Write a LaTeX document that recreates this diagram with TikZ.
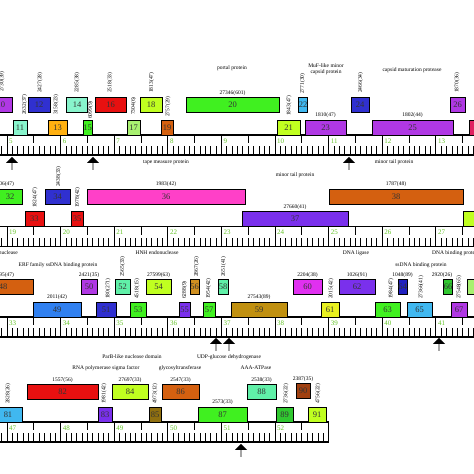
\documentclass[tikz,border=0pt]{standalone}
\usepackage{fontspec}
\setmainfont{Liberation Serif}
\usetikzlibrary{shapes.arrows, positioning}
\definecolor{gpurple}{RGB}{176, 56, 228}
\definecolor{gviolet}{RGB}{122, 48, 236}
\definecolor{gblue}{RGB}{48, 48, 208}
\definecolor{gnavy}{RGB}{32, 32, 192}
\definecolor{gsky}{RGB}{64, 184, 240}
\definecolor{gazure}{RGB}{48, 128, 240}
\definecolor{gaqua}{RGB}{136, 244, 204}
\definecolor{gmint}{RGB}{96, 240, 168}
\definecolor{gorange}{RGB}{255, 176, 16}
\definecolor{ggreen}{RGB}{64, 240, 32}
\definecolor{gdkgreen}{RGB}{48, 200, 48}
\definecolor{gred}{RGB}{232, 16, 16}
\definecolor{glime}{RGB}{168, 240, 112}
\definecolor{gyelgreen}{RGB}{192, 255, 32}
\definecolor{grust}{RGB}{212, 96, 16}
\definecolor{gcrimson}{RGB}{224, 32, 96}
\definecolor{gpink}{RGB}{255, 64, 200}
\definecolor{gmagenta}{RGB}{224, 48, 240}
\definecolor{ggold}{RGB}{192, 144, 16}
\definecolor{gtan}{RGB}{208, 144, 32}
\definecolor{gyellow}{RGB}{232, 240, 32}
\definecolor{golive}{RGB}{144, 112, 16}
\definecolor{gbrown}{RGB}{160, 64, 16}
\definecolor{kbgreen}{RGB}{100, 196, 40}

\begin{document}
\begin{tikzpicture}[x=1pt, y=-1pt,
  gene/.style={draw=black, line width=0.7pt, minimum height=15pt, inner sep=0pt, font=\fontsize{8.5}{8.5}\selectfont, text=black!80},
  vlab/.style={rotate=90, anchor=west, inner sep=0pt, font=\fontsize{5.5}{6}\selectfont},
  hlab/.style={inner sep=0pt, font=\fontsize{5.5}{6}\selectfont},
  func/.style={inner sep=0pt, font=\fontsize{5.5}{6}\selectfont, align=center},
  kbnum/.style={anchor=west, inner sep=0pt, text=kbgreen, font=\fontsize{7}{7}\selectfont},
  upmark/.style={single arrow, fill=black, rotate=90, minimum height=13pt, minimum width=12pt, single arrow head extend=3.5pt, inner sep=0pt}
]
  \useasboundingbox (0,0) rectangle (474,474);

  % rulers (kb scale)
  \foreach \yt/\k/\n/\h/\m/\e in {135/5/88/17/8/480, 226.5/19/88/17/8/480, 317/33/88/17/8/480, 422/47/60/12/5/328.6} {
    \draw[line width=1.3pt] (-5,\yt) -- (\e,\yt) (-5,\yt+20) -- (\e,\yt+20);
    \draw[line width=1pt] (\e,\yt) -- (\e,\yt+20);
    \foreach \i in {-1,...,\n}
      \draw[line width=0.7pt] ({7+\i*5.36},\yt+20) -- ++(0,-9);
    \foreach \i in {-1,...,\h}
      \draw[line width=0.8pt] ({7+\i*26.8},\yt) -- ++(0,8);
    \foreach \j in {0,...,\m} {
      \pgfmathtruncatemacro\lab{\k+\j}
      \draw[line width=0.8pt] ({7+\j*53.6},\yt) -- ++(0,20);
      \node[kbnum] (kb\lab) at ({9+\j*53.6},\yt+6) {\lab};
    }
  }

  % row 1
  \node[gene, fill=gpurple, minimum width=22pt] (g10) at (1,105) {10};
  \node[gene, fill=gblue, minimum width=22pt] (g12) at (39,105) {12};
  \node[gene, fill=gaqua, minimum width=21pt] (g14) at (77,105) {14};
  \node[gene, fill=gred, minimum width=31pt] (g16) at (110.5,105) {16};
  \node[gene, fill=gyelgreen, minimum width=22pt] (g18) at (151,105) {18};
  \node[gene, fill=ggreen, minimum width=93pt] (g20) at (232.5,105) {20};
  \node[gene, fill=gsky, minimum width=8pt] (g22) at (303,105) {22};
  \node[gene, fill=gblue, minimum width=18pt] (g24) at (360,105) {24};
  \node[gene, fill=gpurple, minimum width=15pt] (g26) at (457.5,105) {26};
  \node[gene, fill=gaqua, minimum width=14pt] (g11) at (20,127.5) {11};
  \node[gene, fill=gorange, minimum width=19pt] (g13) at (57.5,127.5) {13};
  \node[gene, fill=ggreen, minimum width=9pt] (g15) at (87.5,127.5) {15};
  \node[gene, fill=glime, minimum width=13pt] (g17) at (133.5,127.5) {17};
  \node[gene, fill=grust, minimum width=12pt] (g19) at (167,127.5) {19};
  \node[gene, fill=gyelgreen, minimum width=23pt] (g21) at (288.5,127.5) {21};
  \node[gene, fill=gpurple, minimum width=41pt] (g23) at (325.5,127.5) {23};
  \node[gene, fill=gpurple, minimum width=81pt] (g25) at (412.5,127.5) {25};
  \node[gene, fill=gcrimson, minimum width=21pt] (g27) at (479.5,127.5) {};

  \node[vlab] (l10) at (2,92) {2730(39)};
  \node[vlab] (l12) at (40,93) {2427(28)};
  \node[vlab] (l11) at (24.5,115) {2632(37)};
  \node[vlab] (l13) at (56,115) {3158(23)};
  \node[vlab] (l14) at (77,93) {2285(38)};
  \node[vlab] (l15) at (90.5,119) {6099(9)};
  \node[vlab] (l16) at (110,93) {2518(33)};
  \node[vlab] (l17) at (133.5,115) {7304(6)};
  \node[vlab] (l18) at (151.5,93) {1813(47)};
  \node[vlab] (l19) at (168,117) {2757(29)};
  \node[vlab] (l21) at (289,116) {1843(47)};
  \node[vlab] (l22) at (302.5,94) {2771(30)};
  \node[vlab] (l24) at (360.5,93) {2466(34)};
  \node[vlab] (l26) at (457,93) {1870(36)};
  \node[hlab, above=1.5pt of g20] (l20) {27346(601)};
  \node[hlab, above=1.5pt of g23] (l23) {1810(47)};
  \node[hlab, above=1.5pt of g25] (l25) {1802(44)};

  \node[func] (f20) at (232,68) {portal protein};
  \node[func] (f22) at (326,69) {MuF-like minor\\capsid protein};
  \node[func] (f24) at (412,70) {capsid maturation protease};
  \node[func] (f1a) at (166,162) {tape measure protein};
  \node[func] (f1b) at (394,162) {minor tail protein};

  % row 2
  \node[gene, fill=ggreen, minimum width=24pt] (g32) at (10,196.5) {32};
  \node[gene, fill=gblue, minimum width=25pt] (g34) at (57.5,196.5) {34};
  \node[gene, fill=gpink, minimum width=158pt] (g36) at (166,196.5) {36};
  \node[gene, fill=grust, minimum width=134pt] (g38) at (396,196.5) {38};
  \node[gene, fill=gred, minimum width=19pt] (g33) at (34.5,219) {33};
  \node[gene, fill=gred, minimum width=12pt] (g35) at (77,219) {35};
  \node[gene, fill=gviolet, minimum width=106pt] (g37) at (295,219) {37};
  \node[gene, fill=gyelgreen, minimum width=27pt] (g39) at (476.5,219) {};

  \node[hlab] (l32) at (4,184) {1806(47)};
  \node[vlab] (l34) at (58.5,187) {2438(33)};
  \node[vlab] (l33) at (35,208) {1824(47)};
  \node[vlab] (l35) at (77.5,208) {1978(42)};
  \node[hlab, above=1.5pt of g36] (l36) {1983(42)};
  \node[hlab, above=1.5pt of g38] (l38) {1787(48)};
  \node[hlab, above=1.5pt of g37] (l37) {27660(41)};

  \node[func] (f37) at (295,175) {minor tail protein};
  \node[func, anchor=east] (f2a) at (18,253) {exonuclease};
  \node[func] (f2b) at (157,253) {HNH endonuclease};
  \node[func] (f2c) at (356,253) {DNA ligase};
  \node[func, anchor=west] (f2d) at (432,253) {DNA binding protein};
  \node[func] (f2e) at (58,265) {ERF family ssDNA binding protein};
  \node[func] (f2f) at (421,265) {ssDNA binding protein};

  % row 3
  \node[gene, fill=grust, minimum width=60pt] (g48) at (3,287) {48};
  \node[gene, fill=gpurple, minimum width=16pt] (g50) at (89,287) {50};
  \node[gene, fill=gmint, minimum width=15pt] (g52) at (122.5,287) {52};
  \node[gene, fill=gyelgreen, minimum width=25pt] (g54) at (158.5,287) {54};
  \node[gene, fill=gtan, minimum width=9pt] (g56) at (194.5,287) {56};
  \node[gene, fill=gmint, minimum width=10pt] (g58) at (223,287) {58};
  \node[gene, fill=gmagenta, minimum width=29pt] (g60) at (307.5,287) {60};
  \node[gene, fill=gviolet, minimum width=36pt] (g62) at (357,287) {62};
  \node[gene, fill=gnavy, minimum width=9pt] (g64) at (402.5,287) {64};
  \node[gene, fill=gdkgreen, minimum width=6pt] (g66) at (448,287) {66};
  \node[gene, fill=glime, minimum width=23pt] (g68) at (478.5,287) {};
  \node[gene, fill=gazure, minimum width=48pt] (g49) at (57,309.5) {49};
  \node[gene, fill=gblue, minimum width=20pt] (g51) at (106,309.5) {51};
  \node[gene, fill=ggreen, minimum width=16pt] (g53) at (138,309.5) {53};
  \node[gene, fill=gviolet, minimum width=11pt] (g55) at (184.5,309.5) {55};
  \node[gene, fill=ggreen, minimum width=12pt] (g57) at (209,309.5) {57};
  \node[gene, fill=ggold, minimum width=56pt] (g59) at (259,309.5) {59};
  \node[gene, fill=gyellow, minimum width=18pt] (g61) at (330,309.5) {61};
  \node[gene, fill=ggreen, minimum width=25pt] (g63) at (387.5,309.5) {63};
  \node[gene, fill=gsky, minimum width=25pt] (g65) at (419.5,309.5) {65};
  \node[gene, fill=gpurple, minimum width=16pt] (g67) at (459,309.5) {67};

  \node[hlab] (l48) at (4,275) {1795(47)};
  \node[hlab, above=1.5pt of g50] (l50) {2421(35)};
  \node[vlab] (l52) at (122.5,277) {2565(33)};
  \node[hlab, above=1.5pt of g54] (l54) {27599(63)};
  \node[vlab] (l56) at (196.5,277) {2867(26)};
  \node[vlab] (l58) at (223.5,277) {2651(41)};
  \node[hlab, above=1.5pt of g60] (l60) {2204(38)};
  \node[hlab, above=1.5pt of g62] (l62) {1026(91)};
  \node[hlab, above=1.5pt of g64] (l64) {1048(89)};
  \node[hlab] (l66) at (442,275) {2920(26)};
  \node[hlab, above=1.5pt of g49] (l49) {2011(42)};
  \node[vlab] (l51) at (108,299) {180(271)};
  \node[vlab] (l53) at (137,299) {4518(15)};
  \node[vlab] (l55) at (184.5,299) {6288(9)};
  \node[vlab] (l57) at (208.5,299) {1954(42)};
  \node[hlab, above=1.5pt of g59] (l59) {27543(89)};
  \node[vlab] (l61) at (331,299) {2015(42)};
  \node[vlab] (l63) at (391,299) {1984(47)};
  \node[vlab] (l65) at (421,299) {27366(41)};
  \node[vlab] (l67) at (459,299) {27548(65)};

  \node[func] (f3a) at (132,357) {ParB-like nuclease domain};
  \node[func] (f3b) at (229,357) {UDP-glucose dehydrogenase};
  \node[func] (f3c) at (106,368) {RNA polymerase sigma factor};
  \node[func] (f3d) at (180,368) {glycosyltransferase};
  \node[func] (f3e) at (256,368) {AAA-ATPase};

  % row 4
  \node[gene, fill=gred, minimum width=71pt] (g82) at (62.5,392) {82};
  \node[gene, fill=gyelgreen, minimum width=36pt] (g84) at (130,392) {84};
  \node[gene, fill=grust, minimum width=37pt] (g86) at (180.5,392) {86};
  \node[gene, fill=gmint, minimum width=29pt] (g88) at (261.5,392) {88};
  \node[gene, fill=gbrown, minimum width=14pt] (g90) at (303,391) {90};
  \node[gene, fill=gsky, minimum width=28pt] (g81) at (8,414.5) {81};
  \node[gene, fill=gviolet, minimum width=14pt] (g83) at (105,414.5) {83};
  \node[gene, fill=golive, minimum width=12pt] (g85) at (155,414.5) {85};
  \node[gene, fill=ggreen, minimum width=49pt] (g87) at (222.5,414.5) {87};
  \node[gene, fill=gdkgreen, minimum width=17pt] (g89) at (284.5,414.5) {89};
  \node[gene, fill=gyelgreen, minimum width=18pt] (g91) at (317,414.5) {91};

  \node[hlab, above=1.5pt of g82] (l82) {1557(56)};
  \node[hlab, above=1.5pt of g84] (l84) {27697(33)};
  \node[hlab, above=1.5pt of g86] (l86) {2547(33)};
  \node[hlab, above=1.5pt of g88] (l88) {2538(33)};
  \node[hlab, above=1.5pt of g90] (l90) {2387(35)};
  \node[hlab, above=1.5pt of g87] (l87) {2573(33)};
  \node[vlab] (l81) at (8,404) {2828(26)};
  \node[vlab] (l83) at (104,404) {1981(42)};
  \node[vlab] (l85) at (155,404) {4973(12)};
  \node[vlab] (l89) at (286,404) {2736(22)};
  \node[vlab] (l91) at (318,404) {4756(22)};

  % markers
  \node[upmark] (a1) at (12,163.5) {};
  \node[upmark] (a2) at (93,163.5) {};
  \node[upmark] (a3) at (349,163.5) {};
  \node[upmark] (a4) at (216,344.5) {};
  \node[upmark] (a5) at (229,344.5) {};
  \node[upmark] (a6) at (439,344.5) {};
  \node[upmark] (a7) at (241,450.5) {};
\end{tikzpicture}
\end{document}
